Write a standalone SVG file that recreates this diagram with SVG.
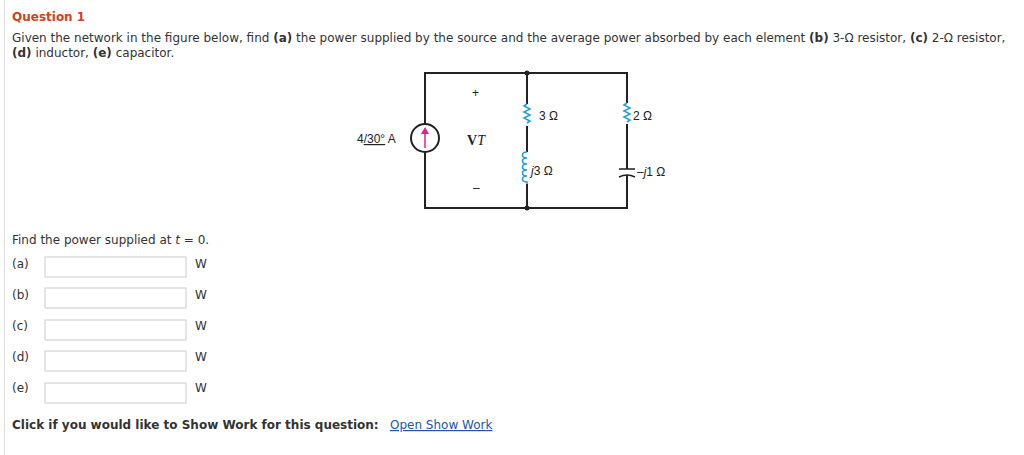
<svg xmlns="http://www.w3.org/2000/svg" width="1024" height="455" viewBox="0 0 1024 455">
<style>
.t{font-family:"DejaVu Sans",Verdana,sans-serif;font-size:12px;fill:#333}
.b{font-weight:bold}
.w{stroke:#222;stroke-width:2;fill:none}
.z{stroke:#2a9fd6;stroke-width:1.6;fill:none}
.c{font-family:"Liberation Sans",Arial,sans-serif;font-size:12px;fill:#222}
.s{font-family:"Liberation Serif",serif;font-size:14px;fill:#222}
.box{fill:#fff;stroke:#ccc;stroke-width:1}
</style>
<rect x="0" y="0" width="1024" height="455" fill="#fff"/>
<line x1="4.5" y1="0" x2="4.5" y2="455" stroke="#ddd"/>
<text x="12" y="21" class="t b" style="fill:#d0421b">Question 1</text>
<text x="12" y="42" class="t">Given the network in the figure below, find <tspan class="b">(a)</tspan> the power supplied by the source and the average power absorbed by each element <tspan class="b">(b)</tspan> 3-Ω resistor, <tspan class="b">(c)</tspan> 2-Ω resistor,</text>
<text x="12" y="57" class="t"><tspan class="b">(d)</tspan> inductor, <tspan class="b">(e)</tspan> capacitor.</text>
<g id="wires">
<path class="w" d="M425,124 V73 H627 V103 M627,124 V169 M627,175 V208 H425 V152"/>
<path class="w" d="M527,73 V104 M527,126 V152 M527,184 V208"/>
<circle cx="527" cy="73" r="2.5" fill="#222"/>
<circle cx="527" cy="208" r="2.5" fill="#222"/>
</g>
<g id="source">
<circle cx="425" cy="138" r="14" fill="#fff" stroke="#222" stroke-width="2"/>
<line x1="425" y1="148" x2="425" y2="132" stroke="#e0208a" stroke-width="1.5"/>
<path d="M421,134 L425,127 L429,134 Z" fill="#e0208a"/>
<text x="357" y="143" class="c">4<tspan text-decoration="underline">/30°</tspan> A</text>
</g>
<g id="vt">
<text x="472" y="97" class="c">+</text>
<text x="467" y="145" class="s" font-weight="bold">V<tspan font-style="italic" font-weight="normal">T</tspan></text>
<text x="473" y="192" class="c">–</text>
</g>
<g id="r3">
<path class="z" d="M527,104 l-3,2 l6,3 l-6,3 l6,3 l-6,3 l6,3 l-3,2"/>
<text x="539" y="120" class="c">3 Ω</text>
</g>
<g id="l3">
<path class="z" d="M527,152 c-6,0 -6,6 0,6 c-6,0 -6,6 0,6 c-6,0 -6,6 0,6 c-6,0 -6,6 0,6 c-6,0 -6,6 0,6 v2"/>
<text x="531" y="175" class="c"><tspan font-style="italic">j</tspan>3 Ω</text>
</g>
<g id="r2">
<path class="z" d="M627,103 l-3,2 l6,3 l-6,3 l6,3 l-6,3 l6,3 l-3,2"/>
<text x="633" y="120" class="c">2 Ω</text>
</g>
<g id="cap">
<line x1="619" y1="169" x2="635" y2="169" stroke="#222" stroke-width="1.5"/>
<path d="M619,177 Q627,173 635,177" stroke="#222" stroke-width="1.5" fill="none"/>
<text x="637" y="176" class="c">–<tspan font-style="italic">j</tspan>1 Ω</text>
</g>
<text x="12" y="244" class="t">Find the power supplied at <tspan font-style="italic">t</tspan> = 0.</text>
<g id="answers">
<text x="12" y="268" class="t">(a)</text><rect class="box" x="45" y="257" width="141" height="20"/><text x="195" y="268" class="t">W</text>
<text x="12" y="299" class="t">(b)</text><rect class="box" x="45" y="288" width="141" height="20"/><text x="195" y="299" class="t">W</text>
<text x="12" y="330" class="t">(c)</text><rect class="box" x="45" y="320" width="141" height="20"/><text x="195" y="330" class="t">W</text>
<text x="12" y="361" class="t">(d)</text><rect class="box" x="45" y="351" width="141" height="20"/><text x="195" y="361" class="t">W</text>
<text x="12" y="392" class="t">(e)</text><rect class="box" x="45" y="383" width="141" height="20"/><text x="195" y="392" class="t">W</text>
</g>
<text x="12" y="429" class="t b">Click if you would like to Show Work for this question:</text>
<text x="390" y="429" class="t" style="fill:#2255aa" text-decoration="underline">Open Show Work</text>
</svg>
